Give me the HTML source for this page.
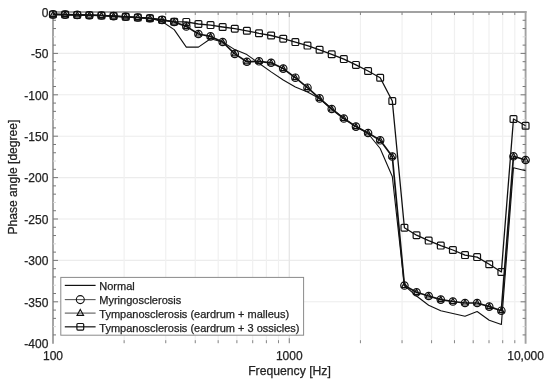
<!DOCTYPE html><html><head><meta charset="utf-8"><style>
html,body{margin:0;padding:0;background:#fff;}
body{width:550px;height:385px;overflow:hidden;}
svg{display:block;}
text{font-family:"Liberation Sans",Arial,Helvetica,sans-serif;fill:#222;stroke:#222;stroke-width:0.25px;}
</style></head><body>
<svg width="550" height="385" viewBox="0 0 550 385">
<rect width="550" height="385" fill="#fff"/>
<g stroke="#ececec" stroke-width="1.1"><line x1="53.0" y1="53.40" x2="525.6" y2="53.40"/><line x1="53.0" y1="94.80" x2="525.6" y2="94.80"/><line x1="53.0" y1="136.20" x2="525.6" y2="136.20"/><line x1="53.0" y1="177.60" x2="525.6" y2="177.60"/><line x1="53.0" y1="219.00" x2="525.6" y2="219.00"/><line x1="53.0" y1="260.40" x2="525.6" y2="260.40"/><line x1="53.0" y1="301.80" x2="525.6" y2="301.80"/></g>
<g stroke="#f0f0f0" stroke-width="1.2"><line x1="124.13" y1="12.0" x2="124.13" y2="343.2"/><line x1="165.74" y1="12.0" x2="165.74" y2="343.2"/><line x1="195.27" y1="12.0" x2="195.27" y2="343.2"/><line x1="218.17" y1="12.0" x2="218.17" y2="343.2"/><line x1="236.88" y1="12.0" x2="236.88" y2="343.2"/><line x1="252.70" y1="12.0" x2="252.70" y2="343.2"/><line x1="266.40" y1="12.0" x2="266.40" y2="343.2"/><line x1="278.49" y1="12.0" x2="278.49" y2="343.2"/><line x1="360.43" y1="12.0" x2="360.43" y2="343.2"/><line x1="402.04" y1="12.0" x2="402.04" y2="343.2"/><line x1="431.57" y1="12.0" x2="431.57" y2="343.2"/><line x1="454.47" y1="12.0" x2="454.47" y2="343.2"/><line x1="473.18" y1="12.0" x2="473.18" y2="343.2"/><line x1="489.00" y1="12.0" x2="489.00" y2="343.2"/><line x1="502.70" y1="12.0" x2="502.70" y2="343.2"/><line x1="514.79" y1="12.0" x2="514.79" y2="343.2"/></g>
<line x1="289.30" y1="12.0" x2="289.30" y2="343.2" stroke="#e6e6e6" stroke-width="1.3"/>
<g stroke="#a2a2a2" stroke-width="1.9" fill="none"><line x1="53.0" y1="11.1" x2="53.0" y2="343.7"/><line x1="52.1" y1="12.0" x2="526.5" y2="12.0"/><line x1="525.6" y1="11.1" x2="525.6" y2="343.7"/></g>
<g stroke="#777" stroke-width="1"><line x1="53.0" y1="20.28" x2="56.0" y2="20.28"/><line x1="525.6" y1="20.28" x2="522.6" y2="20.28"/><line x1="53.0" y1="28.56" x2="56.0" y2="28.56"/><line x1="525.6" y1="28.56" x2="522.6" y2="28.56"/><line x1="53.0" y1="36.84" x2="56.0" y2="36.84" stroke="#d8d8d8"/><line x1="525.6" y1="36.84" x2="522.6" y2="36.84" stroke="#d8d8d8"/><line x1="53.0" y1="45.12" x2="56.0" y2="45.12"/><line x1="525.6" y1="45.12" x2="522.6" y2="45.12"/><line x1="53.0" y1="53.40" x2="58.0" y2="53.40"/><line x1="525.6" y1="53.40" x2="520.6" y2="53.40"/><line x1="53.0" y1="61.68" x2="56.0" y2="61.68"/><line x1="525.6" y1="61.68" x2="522.6" y2="61.68"/><line x1="53.0" y1="69.96" x2="56.0" y2="69.96"/><line x1="525.6" y1="69.96" x2="522.6" y2="69.96"/><line x1="53.0" y1="78.24" x2="56.0" y2="78.24" stroke="#d8d8d8"/><line x1="525.6" y1="78.24" x2="522.6" y2="78.24" stroke="#d8d8d8"/><line x1="53.0" y1="86.52" x2="56.0" y2="86.52"/><line x1="525.6" y1="86.52" x2="522.6" y2="86.52"/><line x1="53.0" y1="94.80" x2="58.0" y2="94.80"/><line x1="525.6" y1="94.80" x2="520.6" y2="94.80"/><line x1="53.0" y1="103.08" x2="56.0" y2="103.08"/><line x1="525.6" y1="103.08" x2="522.6" y2="103.08"/><line x1="53.0" y1="111.36" x2="56.0" y2="111.36"/><line x1="525.6" y1="111.36" x2="522.6" y2="111.36"/><line x1="53.0" y1="119.64" x2="56.0" y2="119.64" stroke="#d8d8d8"/><line x1="525.6" y1="119.64" x2="522.6" y2="119.64" stroke="#d8d8d8"/><line x1="53.0" y1="127.92" x2="56.0" y2="127.92"/><line x1="525.6" y1="127.92" x2="522.6" y2="127.92"/><line x1="53.0" y1="136.20" x2="58.0" y2="136.20"/><line x1="525.6" y1="136.20" x2="520.6" y2="136.20"/><line x1="53.0" y1="144.48" x2="56.0" y2="144.48"/><line x1="525.6" y1="144.48" x2="522.6" y2="144.48"/><line x1="53.0" y1="152.76" x2="56.0" y2="152.76"/><line x1="525.6" y1="152.76" x2="522.6" y2="152.76"/><line x1="53.0" y1="161.04" x2="56.0" y2="161.04" stroke="#d8d8d8"/><line x1="525.6" y1="161.04" x2="522.6" y2="161.04" stroke="#d8d8d8"/><line x1="53.0" y1="169.32" x2="56.0" y2="169.32"/><line x1="525.6" y1="169.32" x2="522.6" y2="169.32"/><line x1="53.0" y1="177.60" x2="58.0" y2="177.60"/><line x1="525.6" y1="177.60" x2="520.6" y2="177.60"/><line x1="53.0" y1="185.88" x2="56.0" y2="185.88"/><line x1="525.6" y1="185.88" x2="522.6" y2="185.88"/><line x1="53.0" y1="194.16" x2="56.0" y2="194.16"/><line x1="525.6" y1="194.16" x2="522.6" y2="194.16"/><line x1="53.0" y1="202.44" x2="56.0" y2="202.44" stroke="#d8d8d8"/><line x1="525.6" y1="202.44" x2="522.6" y2="202.44" stroke="#d8d8d8"/><line x1="53.0" y1="210.72" x2="56.0" y2="210.72"/><line x1="525.6" y1="210.72" x2="522.6" y2="210.72"/><line x1="53.0" y1="219.00" x2="58.0" y2="219.00"/><line x1="525.6" y1="219.00" x2="520.6" y2="219.00"/><line x1="53.0" y1="227.28" x2="56.0" y2="227.28"/><line x1="525.6" y1="227.28" x2="522.6" y2="227.28"/><line x1="53.0" y1="235.56" x2="56.0" y2="235.56"/><line x1="525.6" y1="235.56" x2="522.6" y2="235.56"/><line x1="53.0" y1="243.84" x2="56.0" y2="243.84" stroke="#d8d8d8"/><line x1="525.6" y1="243.84" x2="522.6" y2="243.84" stroke="#d8d8d8"/><line x1="53.0" y1="252.12" x2="56.0" y2="252.12"/><line x1="525.6" y1="252.12" x2="522.6" y2="252.12"/><line x1="53.0" y1="260.40" x2="58.0" y2="260.40"/><line x1="525.6" y1="260.40" x2="520.6" y2="260.40"/><line x1="53.0" y1="268.68" x2="56.0" y2="268.68"/><line x1="525.6" y1="268.68" x2="522.6" y2="268.68"/><line x1="53.0" y1="276.96" x2="56.0" y2="276.96"/><line x1="525.6" y1="276.96" x2="522.6" y2="276.96"/><line x1="53.0" y1="285.24" x2="56.0" y2="285.24" stroke="#d8d8d8"/><line x1="525.6" y1="285.24" x2="522.6" y2="285.24" stroke="#d8d8d8"/><line x1="53.0" y1="293.52" x2="56.0" y2="293.52"/><line x1="525.6" y1="293.52" x2="522.6" y2="293.52"/><line x1="53.0" y1="301.80" x2="58.0" y2="301.80"/><line x1="525.6" y1="301.80" x2="520.6" y2="301.80"/><line x1="53.0" y1="310.08" x2="56.0" y2="310.08"/><line x1="525.6" y1="310.08" x2="522.6" y2="310.08"/><line x1="53.0" y1="318.36" x2="56.0" y2="318.36"/><line x1="525.6" y1="318.36" x2="522.6" y2="318.36"/><line x1="53.0" y1="326.64" x2="56.0" y2="326.64" stroke="#d8d8d8"/><line x1="525.6" y1="326.64" x2="522.6" y2="326.64" stroke="#d8d8d8"/><line x1="53.0" y1="334.92" x2="56.0" y2="334.92"/><line x1="525.6" y1="334.92" x2="522.6" y2="334.92"/></g>
<g stroke="#888" stroke-width="1"><line x1="124.13" y1="343.2" x2="124.13" y2="340.2"/><line x1="124.13" y1="12.0" x2="124.13" y2="15.0"/><line x1="165.74" y1="343.2" x2="165.74" y2="340.2"/><line x1="165.74" y1="12.0" x2="165.74" y2="15.0"/><line x1="195.27" y1="343.2" x2="195.27" y2="340.2"/><line x1="195.27" y1="12.0" x2="195.27" y2="15.0"/><line x1="218.17" y1="343.2" x2="218.17" y2="340.2"/><line x1="218.17" y1="12.0" x2="218.17" y2="15.0"/><line x1="236.88" y1="343.2" x2="236.88" y2="340.2"/><line x1="236.88" y1="12.0" x2="236.88" y2="15.0"/><line x1="252.70" y1="343.2" x2="252.70" y2="340.2"/><line x1="252.70" y1="12.0" x2="252.70" y2="15.0"/><line x1="266.40" y1="343.2" x2="266.40" y2="340.2"/><line x1="266.40" y1="12.0" x2="266.40" y2="15.0"/><line x1="278.49" y1="343.2" x2="278.49" y2="340.2"/><line x1="278.49" y1="12.0" x2="278.49" y2="15.0"/><line x1="289.30" y1="343.2" x2="289.30" y2="338.2"/><line x1="289.30" y1="12.0" x2="289.30" y2="17.0"/><line x1="360.43" y1="343.2" x2="360.43" y2="340.2"/><line x1="360.43" y1="12.0" x2="360.43" y2="15.0"/><line x1="402.04" y1="343.2" x2="402.04" y2="340.2"/><line x1="402.04" y1="12.0" x2="402.04" y2="15.0"/><line x1="431.57" y1="343.2" x2="431.57" y2="340.2"/><line x1="431.57" y1="12.0" x2="431.57" y2="15.0"/><line x1="454.47" y1="343.2" x2="454.47" y2="340.2"/><line x1="454.47" y1="12.0" x2="454.47" y2="15.0"/><line x1="473.18" y1="343.2" x2="473.18" y2="340.2"/><line x1="473.18" y1="12.0" x2="473.18" y2="15.0"/><line x1="489.00" y1="343.2" x2="489.00" y2="340.2"/><line x1="489.00" y1="12.0" x2="489.00" y2="15.0"/><line x1="502.70" y1="343.2" x2="502.70" y2="340.2"/><line x1="502.70" y1="12.0" x2="502.70" y2="15.0"/><line x1="514.79" y1="343.2" x2="514.79" y2="340.2"/><line x1="514.79" y1="12.0" x2="514.79" y2="15.0"/></g>
<polyline points="53.00,14.40 65.12,14.60 77.24,14.90 89.35,15.20 101.47,15.50 113.59,16.10 125.71,16.80 137.83,17.50 149.94,18.30 162.06,21.50 174.18,29.60 186.30,47.10 198.42,47.10 210.53,38.80 222.65,42.00 234.77,49.60 246.89,54.60 259.01,63.30 271.12,71.90 283.24,80.00 295.36,87.00 307.48,92.00 319.59,98.50 331.71,109.00 343.83,118.50 355.95,126.60 368.07,133.50 380.18,148.50 392.30,176.50 404.42,285.70 416.54,296.00 428.66,305.20 440.77,310.70 452.89,313.50 465.01,316.20 477.13,311.50 489.25,320.20 501.36,324.50 513.48,167.70 525.60,170.80" fill="none" stroke="#111" stroke-width="1.1" stroke-linejoin="round"/>
<polyline points="53.00,14.40 65.12,14.60 77.24,14.90 89.35,15.20 101.47,15.50 113.59,16.10 125.71,16.80 137.83,17.50 149.94,18.30 162.06,19.90 174.18,21.70 186.30,21.90 198.42,24.00 210.53,25.10 222.65,27.00 234.77,28.70 246.89,30.80 259.01,33.30 271.12,35.50 283.24,38.70 295.36,42.10 307.48,45.60 319.59,49.80 331.71,54.30 343.83,59.10 355.95,64.90 368.07,71.00 380.18,77.80 392.30,101.00 404.42,227.70 416.54,235.20 428.66,240.60 440.77,245.60 452.89,250.00 465.01,255.10 477.13,257.10 489.25,264.30 501.36,272.00 513.48,119.00 525.60,125.80" fill="none" stroke="#111" stroke-width="1.3" stroke-linejoin="round"/>
<polyline points="53.00,14.40 65.12,14.60 77.24,14.90 89.35,15.20 101.47,15.50 113.59,16.10 125.71,16.80 137.83,17.50 149.94,18.30 162.06,19.90 174.18,22.00 186.30,26.40 198.42,34.00 210.53,36.40 222.65,42.00 234.77,53.90 246.89,61.80 259.01,61.30 271.12,62.80 283.24,68.60 295.36,77.70 307.48,87.70 319.59,98.40 331.71,109.00 343.83,118.50 355.95,126.60 368.07,133.00 380.18,140.30 392.30,156.50 404.42,285.50 416.54,292.30 428.66,296.00 440.77,299.60 452.89,301.50 465.01,303.00 477.13,303.00 489.25,306.60 501.36,310.70 513.48,156.30 525.60,160.00" fill="none" stroke="#111" stroke-width="1.7" stroke-linejoin="round"/>
<g fill="none" stroke="#111" stroke-width="1.2"><rect x="49.60" y="11.00" width="6.8" height="6.8" rx="1"/><rect x="61.72" y="11.20" width="6.8" height="6.8" rx="1"/><rect x="73.84" y="11.50" width="6.8" height="6.8" rx="1"/><rect x="85.95" y="11.80" width="6.8" height="6.8" rx="1"/><rect x="98.07" y="12.10" width="6.8" height="6.8" rx="1"/><rect x="110.19" y="12.70" width="6.8" height="6.8" rx="1"/><rect x="122.31" y="13.40" width="6.8" height="6.8" rx="1"/><rect x="134.43" y="14.10" width="6.8" height="6.8" rx="1"/><rect x="146.54" y="14.90" width="6.8" height="6.8" rx="1"/><rect x="158.66" y="16.50" width="6.8" height="6.8" rx="1"/><rect x="170.78" y="18.30" width="6.8" height="6.8" rx="1"/><rect x="182.90" y="18.50" width="6.8" height="6.8" rx="1"/><rect x="195.02" y="20.60" width="6.8" height="6.8" rx="1"/><rect x="207.13" y="21.70" width="6.8" height="6.8" rx="1"/><rect x="219.25" y="23.60" width="6.8" height="6.8" rx="1"/><rect x="231.37" y="25.30" width="6.8" height="6.8" rx="1"/><rect x="243.49" y="27.40" width="6.8" height="6.8" rx="1"/><rect x="255.61" y="29.90" width="6.8" height="6.8" rx="1"/><rect x="267.72" y="32.10" width="6.8" height="6.8" rx="1"/><rect x="279.84" y="35.30" width="6.8" height="6.8" rx="1"/><rect x="291.96" y="38.70" width="6.8" height="6.8" rx="1"/><rect x="304.08" y="42.20" width="6.8" height="6.8" rx="1"/><rect x="316.19" y="46.40" width="6.8" height="6.8" rx="1"/><rect x="328.31" y="50.90" width="6.8" height="6.8" rx="1"/><rect x="340.43" y="55.70" width="6.8" height="6.8" rx="1"/><rect x="352.55" y="61.50" width="6.8" height="6.8" rx="1"/><rect x="364.67" y="67.60" width="6.8" height="6.8" rx="1"/><rect x="376.78" y="74.40" width="6.8" height="6.8" rx="1"/><rect x="388.90" y="97.60" width="6.8" height="6.8" rx="1"/><rect x="401.02" y="224.30" width="6.8" height="6.8" rx="1"/><rect x="413.14" y="231.80" width="6.8" height="6.8" rx="1"/><rect x="425.26" y="237.20" width="6.8" height="6.8" rx="1"/><rect x="437.37" y="242.20" width="6.8" height="6.8" rx="1"/><rect x="449.49" y="246.60" width="6.8" height="6.8" rx="1"/><rect x="461.61" y="251.70" width="6.8" height="6.8" rx="1"/><rect x="473.73" y="253.70" width="6.8" height="6.8" rx="1"/><rect x="485.85" y="260.90" width="6.8" height="6.8" rx="1"/><rect x="497.96" y="268.60" width="6.8" height="6.8" rx="1"/><rect x="510.08" y="115.60" width="6.8" height="6.8" rx="1"/><rect x="522.20" y="122.40" width="6.8" height="6.8" rx="1"/></g>
<g fill="none" stroke="#111" stroke-width="1.2"><circle cx="53.00" cy="14.40" r="3.7"/><path d="M53.00,11.40 L55.80,16.40 L50.20,16.40 Z"/><circle cx="65.12" cy="14.60" r="3.7"/><path d="M65.12,11.60 L67.92,16.60 L62.32,16.60 Z"/><circle cx="77.24" cy="14.90" r="3.7"/><path d="M77.24,11.90 L80.04,16.90 L74.44,16.90 Z"/><circle cx="89.35" cy="15.20" r="3.7"/><path d="M89.35,12.20 L92.15,17.20 L86.55,17.20 Z"/><circle cx="101.47" cy="15.50" r="3.7"/><path d="M101.47,12.50 L104.27,17.50 L98.67,17.50 Z"/><circle cx="113.59" cy="16.10" r="3.7"/><path d="M113.59,13.10 L116.39,18.10 L110.79,18.10 Z"/><circle cx="125.71" cy="16.80" r="3.7"/><path d="M125.71,13.80 L128.51,18.80 L122.91,18.80 Z"/><circle cx="137.83" cy="17.50" r="3.7"/><path d="M137.83,14.50 L140.63,19.50 L135.03,19.50 Z"/><circle cx="149.94" cy="18.30" r="3.7"/><path d="M149.94,15.30 L152.74,20.30 L147.14,20.30 Z"/><circle cx="162.06" cy="19.90" r="3.7"/><path d="M162.06,16.90 L164.86,21.90 L159.26,21.90 Z"/><circle cx="174.18" cy="22.00" r="3.7"/><path d="M174.18,19.00 L176.98,24.00 L171.38,24.00 Z"/><circle cx="186.30" cy="26.40" r="3.7"/><path d="M186.30,23.40 L189.10,28.40 L183.50,28.40 Z"/><circle cx="198.42" cy="34.00" r="3.7"/><path d="M198.42,31.00 L201.22,36.00 L195.62,36.00 Z"/><circle cx="210.53" cy="36.40" r="3.7"/><path d="M210.53,33.40 L213.33,38.40 L207.73,38.40 Z"/><circle cx="222.65" cy="42.00" r="3.7"/><path d="M222.65,39.00 L225.45,44.00 L219.85,44.00 Z"/><circle cx="234.77" cy="53.90" r="3.7"/><path d="M234.77,50.90 L237.57,55.90 L231.97,55.90 Z"/><circle cx="246.89" cy="61.80" r="3.7"/><path d="M246.89,58.80 L249.69,63.80 L244.09,63.80 Z"/><circle cx="259.01" cy="61.30" r="3.7"/><path d="M259.01,58.30 L261.81,63.30 L256.21,63.30 Z"/><circle cx="271.12" cy="62.80" r="3.7"/><path d="M271.12,59.80 L273.92,64.80 L268.32,64.80 Z"/><circle cx="283.24" cy="68.60" r="3.7"/><path d="M283.24,65.60 L286.04,70.60 L280.44,70.60 Z"/><circle cx="295.36" cy="77.70" r="3.7"/><path d="M295.36,74.70 L298.16,79.70 L292.56,79.70 Z"/><circle cx="307.48" cy="87.70" r="3.7"/><path d="M307.48,84.70 L310.28,89.70 L304.68,89.70 Z"/><circle cx="319.59" cy="98.40" r="3.7"/><path d="M319.59,95.40 L322.39,100.40 L316.79,100.40 Z"/><circle cx="331.71" cy="109.00" r="3.7"/><path d="M331.71,106.00 L334.51,111.00 L328.91,111.00 Z"/><circle cx="343.83" cy="118.50" r="3.7"/><path d="M343.83,115.50 L346.63,120.50 L341.03,120.50 Z"/><circle cx="355.95" cy="126.60" r="3.7"/><path d="M355.95,123.60 L358.75,128.60 L353.15,128.60 Z"/><circle cx="368.07" cy="133.00" r="3.7"/><path d="M368.07,130.00 L370.87,135.00 L365.27,135.00 Z"/><circle cx="380.18" cy="140.30" r="3.7"/><path d="M380.18,137.30 L382.98,142.30 L377.38,142.30 Z"/><circle cx="392.30" cy="156.50" r="3.7"/><path d="M392.30,153.50 L395.10,158.50 L389.50,158.50 Z"/><circle cx="404.42" cy="285.50" r="3.7"/><path d="M404.42,282.50 L407.22,287.50 L401.62,287.50 Z"/><circle cx="416.54" cy="292.30" r="3.7"/><path d="M416.54,289.30 L419.34,294.30 L413.74,294.30 Z"/><circle cx="428.66" cy="296.00" r="3.7"/><path d="M428.66,293.00 L431.46,298.00 L425.86,298.00 Z"/><circle cx="440.77" cy="299.60" r="3.7"/><path d="M440.77,296.60 L443.57,301.60 L437.97,301.60 Z"/><circle cx="452.89" cy="301.50" r="3.7"/><path d="M452.89,298.50 L455.69,303.50 L450.09,303.50 Z"/><circle cx="465.01" cy="303.00" r="3.7"/><path d="M465.01,300.00 L467.81,305.00 L462.21,305.00 Z"/><circle cx="477.13" cy="303.00" r="3.7"/><path d="M477.13,300.00 L479.93,305.00 L474.33,305.00 Z"/><circle cx="489.25" cy="306.60" r="3.7"/><path d="M489.25,303.60 L492.05,308.60 L486.45,308.60 Z"/><circle cx="501.36" cy="310.70" r="3.7"/><path d="M501.36,307.70 L504.16,312.70 L498.56,312.70 Z"/><circle cx="513.48" cy="156.30" r="3.7"/><path d="M513.48,153.30 L516.28,158.30 L510.68,158.30 Z"/><circle cx="525.60" cy="160.00" r="3.7"/><path d="M525.60,157.00 L528.40,162.00 L522.80,162.00 Z"/></g>
<g font-size="12"><text x="48.4" y="16.70" text-anchor="end">0</text><text x="48.4" y="58.10" text-anchor="end">-50</text><text x="48.4" y="99.50" text-anchor="end">-100</text><text x="48.4" y="140.90" text-anchor="end">-150</text><text x="48.4" y="182.30" text-anchor="end">-200</text><text x="48.4" y="223.70" text-anchor="end">-250</text><text x="48.4" y="265.10" text-anchor="end">-300</text><text x="48.4" y="306.50" text-anchor="end">-350</text><text x="48.4" y="347.90" text-anchor="end">-400</text><text x="53.00" y="360" text-anchor="middle">100</text><text x="289.30" y="360" text-anchor="middle">1000</text><text x="525.60" y="360" text-anchor="middle">10,000</text></g>
<text x="289.5" y="375" text-anchor="middle" font-size="12.2">Frequency [Hz]</text>
<text transform="translate(17.4,177.1) rotate(-90)" text-anchor="middle" font-size="12.1">Phase angle [degree]</text>
<rect x="60.8" y="277.4" width="242.80" height="57.80" fill="#fff" stroke="#8a8a8a" stroke-width="1"/>
<line x1="64.8" y1="285.4" x2="95.6" y2="285.4" stroke="#111" stroke-width="1.2"/><text x="99.3" y="290.10" font-size="11">Normal</text><line x1="64.8" y1="299.6" x2="95.6" y2="299.6" stroke="#5a5a5a" stroke-width="1.1"/><circle cx="80.3" cy="299.6" r="4.0" fill="none" stroke="#111" stroke-width="1.1"/><text x="99.3" y="304.30" font-size="11">Myringosclerosis</text><line x1="64.8" y1="313.1" x2="95.6" y2="313.1" stroke="#5a5a5a" stroke-width="1.1"/><path d="M80.3,309.5 L83.6,315.40000000000003 L77.0,315.40000000000003 Z" fill="none" stroke="#111" stroke-width="1.1"/><text x="99.3" y="317.80" font-size="11">Tympanosclerosis (eardrum + malleus)</text><line x1="64.8" y1="326.8" x2="95.6" y2="326.8" stroke="#333" stroke-width="1.4"/><rect x="76.89999999999999" y="323.5" width="6.8" height="6.6" rx="1" fill="none" stroke="#111" stroke-width="1.2"/><text x="99.3" y="331.50" font-size="11">Tympanosclerosis (eardrum + 3 ossicles)</text>
</svg></body></html>
